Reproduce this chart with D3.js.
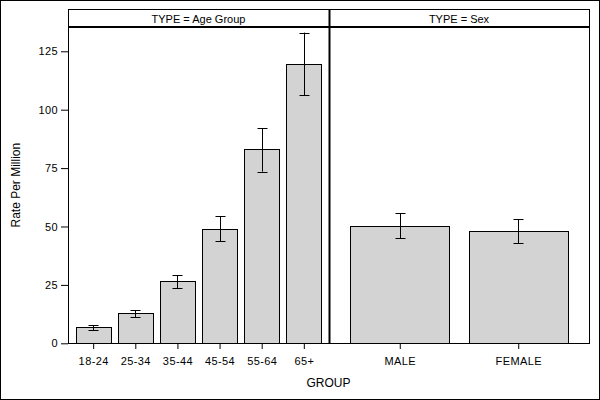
<!DOCTYPE html>
<html>
<head>
<meta charset="utf-8">
<script src="https://cdn.jsdelivr.net/npm/d3@7"></script>
<style>
  body { margin: 0; background: #fff; }
  svg { display: block; font-family: Arial, "Liberation Sans", sans-serif; }
</style>
</head>
<body>
<div id="chart"></div>
<script>
// Data
const ageGroups = ["18-24", "25-34", "35-44", "45-54", "55-64", "65+"];
const ageRates = [6.9, 12.8, 26.7, 48.8, 83.0, 119.4];
const ageLower = [5.7, 11.1, 23.5, 43.7, 73.5, 106.2];
const ageUpper = [7.7, 14.1, 29.1, 54.5, 92.0, 133.0];

const sexGroups = ["MALE", "FEMALE"];
const sexRates = [50.1, 47.9];
const sexLower = [44.9, 42.8];
const sexUpper = [55.6, 53.1];

const panelTitles = ["TYPE = Age Group", "TYPE = Sex"];
const yTicks = [0, 25, 50, 75, 100, 125];
const yMax = 135.4;

// Dimensions
const width = 600, height = 400;
const plotLeft = 68, plotRight = 589, divider = 329;
const headerTop = 9, plotTop = 27, plotBottom = 343.3;
const capWidth = 10;

const svg = d3.select("#chart").append("svg")
  .attr("width", width)
  .attr("height", height);

// outer frame
svg.append("rect")
  .attr("x", 0.5).attr("y", 0.5)
  .attr("width", width - 1).attr("height", height - 1)
  .attr("fill", "#fff").attr("stroke", "#000");

const y = d3.scaleLinear().domain([0, yMax]).range([plotBottom, plotTop]);

// y axis
const yAxis = svg.append("g")
  .attr("transform", `translate(${plotLeft},0)`)
  .call(d3.axisLeft(y).tickValues(yTicks).tickSize(7).tickPadding(3))
  .call((g) => g.select(".domain").remove());
yAxis.selectAll("text").style("font-size", "11px").attr("fill", "#000")
  .style("letter-spacing", "0.4px")
  .style("font-family", "Arial, 'Liberation Sans', sans-serif");
yAxis.selectAll("line").attr("stroke", "#000");

svg.append("text")
  .attr("transform", `translate(20,${(plotTop + plotBottom) / 2}) rotate(-90)`)
  .attr("text-anchor", "middle")
  .style("font-size", "12px")
  .text("Rate Per Million");

svg.append("text")
  .attr("x", (plotLeft + plotRight) / 2)
  .attr("y", 387)
  .attr("text-anchor", "middle")
  .style("font-size", "12px")
  .text("GROUP");

const panels = [
  { x0: plotLeft, x1: divider, groups: ageGroups, rates: ageRates, lower: ageLower, upper: ageUpper, title: panelTitles[0] },
  { x0: divider, x1: plotRight, groups: sexGroups, rates: sexRates, lower: sexLower, upper: sexUpper, title: panelTitles[1] }
];

panels.forEach((p) => {
  const x = d3.scaleBand()
    .domain(p.groups)
    .range([p.x0, p.x1])
    .paddingInner(0.165)
    .paddingOuter(0.18);

  const rows = p.groups.map((g, i) => ({ group: g, rate: p.rates[i], lo: p.lower[i], hi: p.upper[i] }));
  const g = svg.append("g");

  // bars
  g.selectAll(".bar")
    .data(rows)
    .enter()
    .append("rect")
    .attr("class", "bar")
    .attr("x", (d) => Math.round(x(d.group)) + 0.5)
    .attr("y", (d) => Math.round(y(d.rate)) + 0.5)
    .attr("width", Math.round(x.bandwidth()))
    .attr("height", (d) => Math.round(plotBottom) - Math.round(y(d.rate)))
    .attr("fill", "#d3d3d3")
    .attr("stroke", "#000");

  // error bars
  const cx = (d) => Math.round(x(d.group) + x.bandwidth() / 2) + 0.5;
  g.selectAll(".err")
    .data(rows)
    .enter()
    .append("line")
    .attr("x1", cx).attr("x2", cx)
    .attr("y1", (d) => y(d.lo)).attr("y2", (d) => y(d.hi))
    .attr("stroke", "#000");
  ["lo", "hi"].forEach((k) => {
    g.selectAll(`.cap-${k}`)
      .data(rows)
      .enter()
      .append("line")
      .attr("x1", (d) => cx(d) - capWidth / 2)
      .attr("x2", (d) => cx(d) + capWidth / 2)
      .attr("y1", (d) => Math.round(y(d[k])) + 0.5)
      .attr("y2", (d) => Math.round(y(d[k])) + 0.5)
      .attr("stroke", "#000");
  });

  // x axis
  const xAxis = svg.append("g")
    .attr("transform", `translate(0.5,${Math.round(plotBottom)})`)
    .call(d3.axisBottom(x).tickSize(6).tickPadding(8))
    .call((a) => a.select(".domain").remove());
  xAxis.selectAll("text").style("font-size", "11px").attr("fill", "#000")
    .style("letter-spacing", "0.4px")
    .style("font-family", "Arial, 'Liberation Sans', sans-serif");
  xAxis.selectAll("line").attr("stroke", "#000");

  // panel frame + header
  svg.append("rect")
    .attr("x", p.x0 + 0.5).attr("y", headerTop + 0.5)
    .attr("width", p.x1 - p.x0).attr("height", Math.round(plotBottom) - headerTop)
    .attr("fill", "none").attr("stroke", "#000");

  svg.append("text")
    .attr("x", (p.x0 + p.x1) / 2)
    .attr("y", (headerTop + plotTop) / 2 + 1)
    .attr("dy", "0.35em")
    .attr("text-anchor", "middle")
    .style("font-size", "11px")
    .text(p.title);
});

// thick header line and panel divider
svg.append("line")
  .attr("x1", plotLeft).attr("x2", plotRight + 1)
  .attr("y1", plotTop).attr("y2", plotTop)
  .attr("stroke", "#000").attr("stroke-width", 2);
svg.append("line")
  .attr("x1", divider + 0.5).attr("x2", divider + 0.5)
  .attr("y1", headerTop).attr("y2", Math.round(plotBottom) + 1)
  .attr("stroke", "#000").attr("stroke-width", 2);
</script>
</body>
</html>
